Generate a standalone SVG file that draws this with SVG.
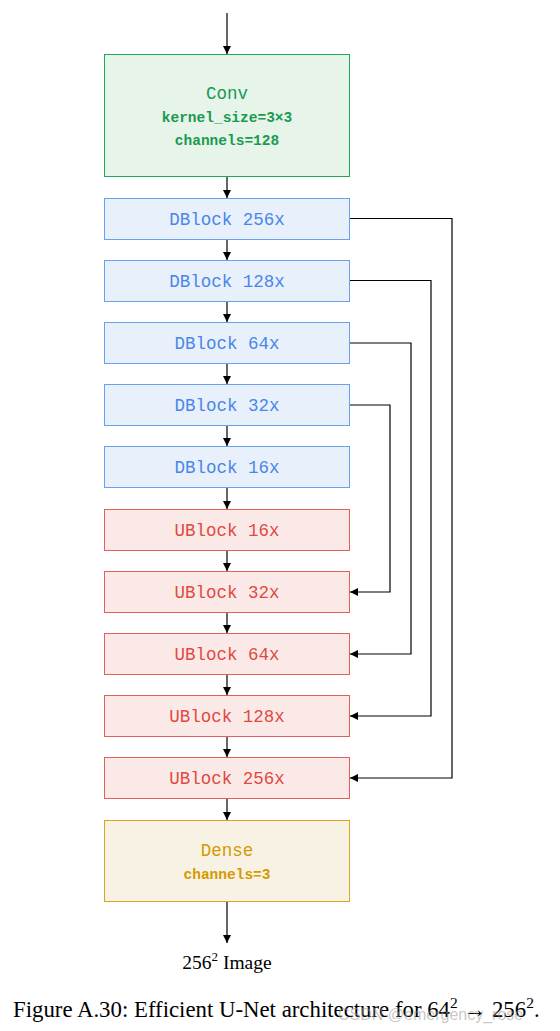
<svg xmlns="http://www.w3.org/2000/svg" width="560" height="1031" viewBox="0 0 560 1031">
<defs>
<marker id="ah" viewBox="0 0 10 10" refX="10" refY="5" markerWidth="8" markerHeight="8" markerUnits="userSpaceOnUse" orient="auto">
<path d="M0,0 L10,5 L0,10 z" fill="#000"/>
</marker>
<style>
.mono{font-family:"Liberation Mono","DejaVu Sans Mono",monospace;text-anchor:middle}
.t{font-size:17.5px}
.s{font-size:14.5px;font-weight:bold}
.g rect{fill:#e6f4ea;stroke:#20a85a;stroke-width:1}
.g text{fill:#1a9a50}
.b rect{fill:#e8f0fc;stroke:#6aa0f0;stroke-width:1}
.b text{fill:#4a86e8}
.r rect{fill:#fbe9e8;stroke:#e0605a;stroke-width:1}
.r text{fill:#e04a40}
.y rect{fill:#f8f2e4;stroke:#d9a520;stroke-width:1}
.y text{fill:#d49a00}
.c line,.c polyline{stroke:#000;stroke-width:1.2;fill:none;marker-end:url(#ah)}
.serif{font-family:"Liberation Serif","Times New Roman",serif;fill:#000}
</style>
</defs>
<rect width="560" height="1031" fill="#fff"/>
<g id="connectors" class="c">
<line x1="227" y1="13" x2="227" y2="54"/>
<line x1="227" y1="177" x2="227" y2="198"/>
<line x1="227" y1="239" x2="227" y2="260"/>
<line x1="227" y1="301" x2="227" y2="322"/>
<line x1="227" y1="363" x2="227" y2="384"/>
<line x1="227" y1="425" x2="227" y2="446"/>
<line x1="227" y1="487" x2="227" y2="509"/>
<line x1="227" y1="550" x2="227" y2="571"/>
<line x1="227" y1="612" x2="227" y2="633"/>
<line x1="227" y1="674" x2="227" y2="695"/>
<line x1="227" y1="736" x2="227" y2="757"/>
<line x1="227" y1="798" x2="227" y2="820"/>
<line x1="227" y1="902" x2="227" y2="943"/>
<polyline points="350,218.5 452,218.5 452,778 350,778"/>
<polyline points="350,280.5 431,280.5 431,716 350,716"/>
<polyline points="350,343 411,343 411,654 350,654"/>
<polyline points="350,405 390,405 390,592 350,592"/>
</g>
<g id="conv" class="g">
<rect x="104.5" y="54.5" width="245" height="122"/>
<text class="mono t" x="227" y="99">Conv</text>
<text class="mono s" x="227" y="122">kernel_size=3×3</text>
<text class="mono s" x="227" y="145">channels=128</text>
</g>
<g id="dblock256" class="b"><rect x="104.5" y="198.5" width="245" height="41"/><text class="mono t" x="227" y="225">DBlock 256x</text></g>
<g id="dblock128" class="b"><rect x="104.5" y="260.5" width="245" height="41"/><text class="mono t" x="227" y="287">DBlock 128x</text></g>
<g id="dblock64" class="b"><rect x="104.5" y="322.5" width="245" height="41"/><text class="mono t" x="227" y="349">DBlock 64x</text></g>
<g id="dblock32" class="b"><rect x="104.5" y="384.5" width="245" height="41"/><text class="mono t" x="227" y="411">DBlock 32x</text></g>
<g id="dblock16" class="b"><rect x="104.5" y="446.5" width="245" height="41"/><text class="mono t" x="227" y="473">DBlock 16x</text></g>
<g id="ublock16" class="r"><rect x="104.5" y="509.5" width="245" height="41"/><text class="mono t" x="227" y="536">UBlock 16x</text></g>
<g id="ublock32" class="r"><rect x="104.5" y="571.5" width="245" height="41"/><text class="mono t" x="227" y="598">UBlock 32x</text></g>
<g id="ublock64" class="r"><rect x="104.5" y="633.5" width="245" height="41"/><text class="mono t" x="227" y="660">UBlock 64x</text></g>
<g id="ublock128" class="r"><rect x="104.5" y="695.5" width="245" height="41"/><text class="mono t" x="227" y="722">UBlock 128x</text></g>
<g id="ublock256" class="r"><rect x="104.5" y="757.5" width="245" height="41"/><text class="mono t" x="227" y="784">UBlock 256x</text></g>
<g id="dense" class="y">
<rect x="104.5" y="820.5" width="245" height="81"/>
<text class="mono t" x="227" y="856">Dense</text>
<text class="mono s" x="227" y="879">channels=3</text>
</g>
<g id="output">
<text class="serif" x="227" y="969" font-size="19.5" text-anchor="middle">256<tspan font-size="13" dy="-8">2</tspan><tspan dy="8"> Image</tspan></text>
</g>
<text class="serif" x="13" y="1017" font-size="22.8">Figure A.30: Efficient U-Net architecture for 64<tspan font-size="15.5" dy="-9">2</tspan><tspan dy="9"> → 256</tspan><tspan font-size="15.5" dy="-9">2</tspan><tspan dy="9">.</tspan></text>
<text x="338" y="1020" font-family="Liberation Sans,Arial,sans-serif" font-size="16" fill="#999" fill-opacity="0.55">CSDN @emergency_rose</text>
</svg>
